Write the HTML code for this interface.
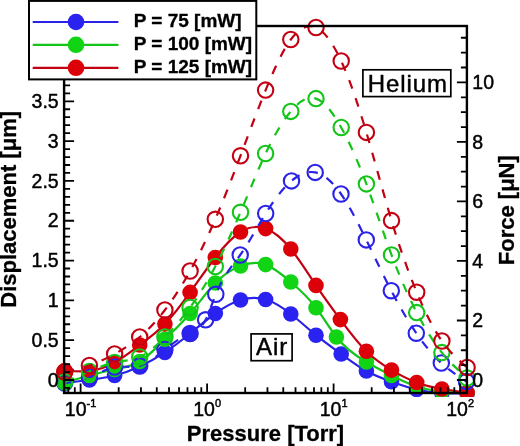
<!DOCTYPE html>
<html><head><meta charset="utf-8"><title>Displacement vs Pressure</title>
<style>html,body{margin:0;padding:0;background:#fff;width:520px;height:446px;overflow:hidden}svg{display:block}</style>
</head><body>
<svg width="520" height="446" viewBox="0 0 520 446">
<rect width="520" height="446" fill="#fff"/>
<defs><clipPath id="dc"><rect x="0" y="0" width="520" height="397"/></clipPath></defs><g clip-path="url(#dc)">
<path d="M64.70,383.00 C72.93,382.04 81.15,381.08 89.38,380.00 C97.77,378.90 106.17,377.66 114.56,375.50 C122.95,373.34 131.35,370.25 139.74,366.40 C148.13,362.55 156.53,357.96 164.92,352.40 C173.31,346.84 181.71,340.33 190.10,333.50 C198.49,326.67 206.89,319.51 215.28,313.50 C223.67,307.49 232.07,302.62 240.46,300.00 C248.85,297.38 257.25,296.99 265.64,299.50 C274.03,302.01 282.43,307.41 290.82,314.00 C299.21,320.59 307.61,328.37 316.00,335.20 C324.39,342.03 332.79,347.92 341.18,354.00 C349.57,360.08 357.97,366.34 366.36,371.00 C374.75,375.66 383.15,378.73 391.54,381.70 C399.93,384.67 408.33,387.55 416.72,389.50 C425.11,391.45 433.51,392.49 441.90,393.00 C450.29,393.51 458.69,393.51 467.08,393.50" fill="none" stroke="#2a22e6" stroke-width="2.2"/>
<circle cx="64.7" cy="383.0" r="7.8" fill="#2a22f0"/>
<circle cx="89.4" cy="380.0" r="7.8" fill="#2a22f0"/>
<circle cx="114.6" cy="375.5" r="7.8" fill="#2a22f0"/>
<circle cx="139.7" cy="366.4" r="7.8" fill="#2a22f0"/>
<circle cx="164.9" cy="352.4" r="7.8" fill="#2a22f0"/>
<circle cx="190.1" cy="333.5" r="7.8" fill="#2a22f0"/>
<circle cx="215.3" cy="313.5" r="7.8" fill="#2a22f0"/>
<circle cx="240.5" cy="300.0" r="7.8" fill="#2a22f0"/>
<circle cx="265.6" cy="299.5" r="7.8" fill="#2a22f0"/>
<circle cx="290.8" cy="314.0" r="7.8" fill="#2a22f0"/>
<circle cx="316.0" cy="335.2" r="7.8" fill="#2a22f0"/>
<circle cx="341.2" cy="354.0" r="7.8" fill="#2a22f0"/>
<circle cx="366.4" cy="371.0" r="7.8" fill="#2a22f0"/>
<circle cx="391.5" cy="381.7" r="7.8" fill="#2a22f0"/>
<circle cx="416.7" cy="389.5" r="7.8" fill="#2a22f0"/>
<circle cx="441.9" cy="393.0" r="7.8" fill="#2a22f0"/>
<circle cx="467.1" cy="393.5" r="7.8" fill="#2a22f0"/>
<path d="M64.70,382.50 C72.93,380.11 81.15,377.71 89.38,375.50 C97.77,373.24 106.17,371.17 114.56,369.50 C122.95,367.83 131.35,366.57 139.74,361.50 C148.13,356.43 156.53,347.57 164.92,339.30 C173.31,331.03 181.71,323.35 190.10,313.50 C198.49,303.65 206.89,291.61 215.28,283.00 C223.67,274.39 232.07,269.19 240.46,266.00 C248.85,262.81 257.25,261.61 265.64,264.60 C274.03,267.59 282.43,274.76 290.82,282.00 C299.21,289.24 307.61,296.54 316.00,307.70 C322.80,316.74 329.60,328.33 336.40,337.00 C346.39,349.74 356.37,356.20 366.36,362.00 C374.75,366.87 383.15,371.28 391.54,375.50 C399.93,379.72 408.33,383.77 416.72,386.50 C425.11,389.23 433.51,390.64 441.90,391.50 C450.29,392.36 458.69,392.68 467.08,393.00" fill="none" stroke="#14c418" stroke-width="2.2"/>
<circle cx="64.7" cy="382.5" r="7.8" fill="#10d414"/>
<circle cx="89.4" cy="375.5" r="7.8" fill="#10d414"/>
<circle cx="114.6" cy="369.5" r="7.8" fill="#10d414"/>
<circle cx="139.7" cy="361.5" r="7.8" fill="#10d414"/>
<circle cx="164.9" cy="339.3" r="7.8" fill="#10d414"/>
<circle cx="190.1" cy="313.5" r="7.8" fill="#10d414"/>
<circle cx="215.3" cy="283.0" r="7.8" fill="#10d414"/>
<circle cx="240.5" cy="266.0" r="7.8" fill="#10d414"/>
<circle cx="265.6" cy="264.6" r="7.8" fill="#10d414"/>
<circle cx="290.8" cy="282.0" r="7.8" fill="#10d414"/>
<circle cx="316.0" cy="307.7" r="7.8" fill="#10d414"/>
<circle cx="336.4" cy="337.0" r="7.8" fill="#10d414"/>
<circle cx="366.4" cy="362.0" r="7.8" fill="#10d414"/>
<circle cx="391.5" cy="375.5" r="7.8" fill="#10d414"/>
<circle cx="416.7" cy="386.5" r="7.8" fill="#10d414"/>
<circle cx="441.9" cy="391.5" r="7.8" fill="#10d414"/>
<circle cx="467.1" cy="393.0" r="7.8" fill="#10d414"/>
<path d="M64.70,370.50 C72.93,371.25 81.15,371.99 89.38,371.00 C97.77,369.99 106.17,367.17 114.56,362.50 C122.95,357.83 131.35,351.30 139.74,345.00 C148.13,338.70 156.53,332.64 164.92,324.00 C173.31,315.36 181.71,304.15 190.10,292.40 C198.49,280.65 206.89,268.35 215.28,257.50 C223.67,246.65 232.07,237.26 240.46,232.00 C248.85,226.74 257.25,225.62 265.64,228.60 C274.03,231.58 282.43,238.67 290.82,249.00 C299.21,259.33 307.61,272.89 316.00,285.40 C324.13,297.52 332.27,308.64 340.40,319.60 C349.05,331.26 357.71,342.74 366.36,351.30 C374.75,359.60 383.15,365.16 391.54,370.10 C399.93,375.04 408.33,379.38 416.72,382.50 C425.11,385.62 433.51,387.54 441.90,389.00 C450.29,390.46 458.69,391.48 467.08,392.50" fill="none" stroke="#c20012" stroke-width="2.2"/>
<circle cx="64.7" cy="370.5" r="7.8" fill="#dc0008"/>
<circle cx="89.4" cy="371.0" r="7.8" fill="#dc0008"/>
<circle cx="114.6" cy="362.5" r="7.8" fill="#dc0008"/>
<circle cx="139.7" cy="345.0" r="7.8" fill="#dc0008"/>
<circle cx="164.9" cy="324.0" r="7.8" fill="#dc0008"/>
<circle cx="190.1" cy="292.4" r="7.8" fill="#dc0008"/>
<circle cx="215.3" cy="257.5" r="7.8" fill="#dc0008"/>
<circle cx="240.5" cy="232.0" r="7.8" fill="#dc0008"/>
<circle cx="265.6" cy="228.6" r="7.8" fill="#dc0008"/>
<circle cx="290.8" cy="249.0" r="7.8" fill="#dc0008"/>
<circle cx="316.0" cy="285.4" r="7.8" fill="#dc0008"/>
<circle cx="340.4" cy="319.6" r="7.8" fill="#dc0008"/>
<circle cx="366.4" cy="351.3" r="7.8" fill="#dc0008"/>
<circle cx="391.5" cy="370.1" r="7.8" fill="#dc0008"/>
<circle cx="416.7" cy="382.5" r="7.8" fill="#dc0008"/>
<circle cx="441.9" cy="389.0" r="7.8" fill="#dc0008"/>
<circle cx="467.1" cy="392.5" r="7.8" fill="#dc0008"/>
<path d="M64.70,383.00 C72.93,381.91 81.17,380.81 89.40,377.50 C97.80,374.12 106.20,368.44 114.60,367.00 C122.97,365.57 131.33,368.34 139.70,366.00 C148.10,363.65 156.50,356.14 164.90,349.50 C173.30,342.86 181.70,337.07 190.10,333.50 C195.27,331.30 200.43,329.94 205.60,319.80 C209.00,313.13 212.40,302.65 215.80,294.30 C223.93,274.32 232.07,266.46 240.20,255.00 C248.70,243.03 257.20,227.12 265.70,213.50 C274.30,199.72 282.90,188.27 291.50,180.90 C299.40,174.13 307.30,170.80 315.20,172.40 C323.80,174.14 332.40,181.71 341.00,194.00 C349.43,206.05 357.87,222.64 366.30,239.90 C374.63,256.96 382.97,274.68 391.30,290.70 C399.63,306.72 407.97,321.05 416.30,333.20 C424.63,345.35 432.97,355.33 441.30,363.00 C449.70,370.73 458.10,376.12 466.50,381.50" fill="none" stroke="#2a22e6" stroke-width="2.2" stroke-dasharray="9.0 10.0" stroke-dashoffset="17.50"/>
<circle cx="64.7" cy="383.0" r="7.7" fill="none" stroke="#2a22e6" stroke-width="2.1"/>
<circle cx="89.4" cy="377.5" r="7.7" fill="none" stroke="#2a22e6" stroke-width="2.1"/>
<circle cx="114.6" cy="367.0" r="7.7" fill="none" stroke="#2a22e6" stroke-width="2.1"/>
<circle cx="139.7" cy="366.0" r="7.7" fill="none" stroke="#2a22e6" stroke-width="2.1"/>
<circle cx="164.9" cy="349.5" r="7.7" fill="none" stroke="#2a22e6" stroke-width="2.1"/>
<circle cx="190.1" cy="333.5" r="7.7" fill="none" stroke="#2a22e6" stroke-width="2.1"/>
<circle cx="205.6" cy="319.8" r="7.7" fill="none" stroke="#2a22e6" stroke-width="2.1"/>
<circle cx="215.8" cy="294.3" r="7.7" fill="none" stroke="#2a22e6" stroke-width="2.1"/>
<circle cx="240.2" cy="255.0" r="7.7" fill="none" stroke="#2a22e6" stroke-width="2.1"/>
<circle cx="265.7" cy="213.5" r="7.7" fill="none" stroke="#2a22e6" stroke-width="2.1"/>
<circle cx="291.5" cy="180.9" r="7.7" fill="none" stroke="#2a22e6" stroke-width="2.1"/>
<circle cx="315.2" cy="172.4" r="7.7" fill="none" stroke="#2a22e6" stroke-width="2.1"/>
<circle cx="341.0" cy="194.0" r="7.7" fill="none" stroke="#2a22e6" stroke-width="2.1"/>
<circle cx="366.3" cy="239.9" r="7.7" fill="none" stroke="#2a22e6" stroke-width="2.1"/>
<circle cx="391.3" cy="290.7" r="7.7" fill="none" stroke="#2a22e6" stroke-width="2.1"/>
<circle cx="416.3" cy="333.2" r="7.7" fill="none" stroke="#2a22e6" stroke-width="2.1"/>
<circle cx="441.3" cy="363.0" r="7.7" fill="none" stroke="#2a22e6" stroke-width="2.1"/>
<circle cx="466.5" cy="381.5" r="7.7" fill="none" stroke="#2a22e6" stroke-width="2.1"/>
<path d="M64.70,382.00 C72.93,378.51 81.15,375.02 89.38,371.50 C97.77,367.91 106.17,364.28 114.56,362.50 C122.95,360.72 131.35,360.79 139.74,357.00 C148.13,353.21 156.53,345.55 164.92,337.00 C173.31,328.45 181.71,318.99 190.10,307.50 C198.49,296.01 206.89,282.47 215.28,266.50 C223.67,250.53 232.07,232.11 240.46,212.30 C248.85,192.49 257.25,171.28 265.64,153.50 C274.03,135.72 282.43,121.37 290.82,111.40 C299.21,101.43 307.61,95.84 316.00,98.60 C324.39,101.36 332.79,112.48 341.18,127.50 C349.57,142.52 357.97,161.43 366.36,183.90 C374.75,206.37 383.15,232.39 391.54,254.90 C399.93,277.41 408.33,296.41 416.72,312.60 C425.11,328.79 433.51,342.17 441.90,352.60 C450.29,363.03 458.69,370.52 467.08,378.00" fill="none" stroke="#14c418" stroke-width="2.2" stroke-dasharray="9.0 10.0" stroke-dashoffset="18.20"/>
<circle cx="64.7" cy="382.0" r="7.7" fill="none" stroke="#14c418" stroke-width="2.1"/>
<circle cx="89.4" cy="371.5" r="7.7" fill="none" stroke="#14c418" stroke-width="2.1"/>
<circle cx="114.6" cy="362.5" r="7.7" fill="none" stroke="#14c418" stroke-width="2.1"/>
<circle cx="139.7" cy="357.0" r="7.7" fill="none" stroke="#14c418" stroke-width="2.1"/>
<circle cx="164.9" cy="337.0" r="7.7" fill="none" stroke="#14c418" stroke-width="2.1"/>
<circle cx="190.1" cy="307.5" r="7.7" fill="none" stroke="#14c418" stroke-width="2.1"/>
<circle cx="215.3" cy="266.5" r="7.7" fill="none" stroke="#14c418" stroke-width="2.1"/>
<circle cx="240.5" cy="212.3" r="7.7" fill="none" stroke="#14c418" stroke-width="2.1"/>
<circle cx="265.6" cy="153.5" r="7.7" fill="none" stroke="#14c418" stroke-width="2.1"/>
<circle cx="290.8" cy="111.4" r="7.7" fill="none" stroke="#14c418" stroke-width="2.1"/>
<circle cx="316.0" cy="98.6" r="7.7" fill="none" stroke="#14c418" stroke-width="2.1"/>
<circle cx="341.2" cy="127.5" r="7.7" fill="none" stroke="#14c418" stroke-width="2.1"/>
<circle cx="366.4" cy="183.9" r="7.7" fill="none" stroke="#14c418" stroke-width="2.1"/>
<circle cx="391.5" cy="254.9" r="7.7" fill="none" stroke="#14c418" stroke-width="2.1"/>
<circle cx="416.7" cy="312.6" r="7.7" fill="none" stroke="#14c418" stroke-width="2.1"/>
<circle cx="441.9" cy="352.6" r="7.7" fill="none" stroke="#14c418" stroke-width="2.1"/>
<circle cx="467.1" cy="378.0" r="7.7" fill="none" stroke="#14c418" stroke-width="2.1"/>
<path d="M64.70,372.00 C72.93,370.17 81.15,368.35 89.38,365.50 C97.77,362.59 106.17,358.62 114.56,354.00 C122.95,349.38 131.35,344.11 139.74,337.00 C148.13,329.89 156.53,320.96 164.92,310.00 C173.31,299.04 181.71,286.07 190.10,271.00 C198.49,255.93 206.89,238.77 215.28,219.30 C223.67,199.83 232.07,178.07 240.46,155.80 C248.85,133.53 257.25,110.76 265.64,90.10 C274.03,69.44 282.43,50.90 290.82,39.50 C299.21,28.10 307.61,23.83 316.00,27.50 C324.39,31.17 332.79,42.79 341.18,61.00 C349.57,79.21 357.97,104.01 366.36,132.40 C374.75,160.79 383.15,192.79 391.54,220.60 C399.93,248.41 408.33,272.05 416.72,292.20 C425.11,312.35 433.51,329.03 441.90,341.00 C450.29,352.97 458.69,360.24 467.08,367.50" fill="none" stroke="#c20012" stroke-width="2.2" stroke-dasharray="9.0 10.0" stroke-dashoffset="18.30"/>
<circle cx="64.7" cy="372.0" r="7.7" fill="none" stroke="#c20012" stroke-width="2.1"/>
<circle cx="89.4" cy="365.5" r="7.7" fill="none" stroke="#c20012" stroke-width="2.1"/>
<circle cx="114.6" cy="354.0" r="7.7" fill="none" stroke="#c20012" stroke-width="2.1"/>
<circle cx="139.7" cy="337.0" r="7.7" fill="none" stroke="#c20012" stroke-width="2.1"/>
<circle cx="164.9" cy="310.0" r="7.7" fill="none" stroke="#c20012" stroke-width="2.1"/>
<circle cx="190.1" cy="271.0" r="7.7" fill="none" stroke="#c20012" stroke-width="2.1"/>
<circle cx="215.3" cy="219.3" r="7.7" fill="none" stroke="#c20012" stroke-width="2.1"/>
<circle cx="240.5" cy="155.8" r="7.7" fill="none" stroke="#c20012" stroke-width="2.1"/>
<circle cx="265.6" cy="90.1" r="7.7" fill="none" stroke="#c20012" stroke-width="2.1"/>
<circle cx="290.8" cy="39.5" r="7.7" fill="none" stroke="#c20012" stroke-width="2.1"/>
<circle cx="316.0" cy="27.5" r="7.7" fill="none" stroke="#c20012" stroke-width="2.1"/>
<circle cx="341.2" cy="61.0" r="7.7" fill="none" stroke="#c20012" stroke-width="2.1"/>
<circle cx="366.4" cy="132.4" r="7.7" fill="none" stroke="#c20012" stroke-width="2.1"/>
<circle cx="391.5" cy="220.6" r="7.7" fill="none" stroke="#c20012" stroke-width="2.1"/>
<circle cx="416.7" cy="292.2" r="7.7" fill="none" stroke="#c20012" stroke-width="2.1"/>
<circle cx="441.9" cy="341.0" r="7.7" fill="none" stroke="#c20012" stroke-width="2.1"/>
<circle cx="467.1" cy="367.5" r="7.7" fill="none" stroke="#c20012" stroke-width="2.1"/>
</g>
<path d="M64.1,387.96h6.0 M64.1,380.00h10.0 M64.1,372.04h6.0 M64.1,364.07h6.0 M64.1,356.11h6.0 M64.1,348.15h6.0 M64.1,340.19h10.0 M64.1,332.22h6.0 M64.1,324.26h6.0 M64.1,316.30h6.0 M64.1,308.33h6.0 M64.1,300.37h10.0 M64.1,292.41h6.0 M64.1,284.44h6.0 M64.1,276.48h6.0 M64.1,268.52h6.0 M64.1,260.56h10.0 M64.1,252.59h6.0 M64.1,244.63h6.0 M64.1,236.67h6.0 M64.1,228.70h6.0 M64.1,220.74h10.0 M64.1,212.78h6.0 M64.1,204.81h6.0 M64.1,196.85h6.0 M64.1,188.89h6.0 M64.1,180.93h10.0 M64.1,172.96h6.0 M64.1,165.00h6.0 M64.1,157.04h6.0 M64.1,149.07h6.0 M64.1,141.11h10.0 M64.1,133.15h6.0 M64.1,125.18h6.0 M64.1,117.22h6.0 M64.1,109.26h6.0 M64.1,101.30h10.0 M64.1,93.33h6.0 M64.1,85.37h6.0 M64.1,77.41h6.0 M64.1,69.44h6.0 M64.1,61.48h10.0 M64.1,53.52h6.0 M64.1,45.55h6.0 M64.1,37.59h6.0 M64.1,29.63h6.0 M466.9,380.00h-10.0 M466.9,365.12h-6.0 M466.9,350.24h-6.0 M466.9,335.36h-6.0 M466.9,320.48h-10.0 M466.9,305.60h-6.0 M466.9,290.72h-6.0 M466.9,275.84h-6.0 M466.9,260.96h-10.0 M466.9,246.08h-6.0 M466.9,231.20h-6.0 M466.9,216.32h-6.0 M466.9,201.44h-10.0 M466.9,186.56h-6.0 M466.9,171.68h-6.0 M466.9,156.80h-6.0 M466.9,141.92h-10.0 M466.9,127.04h-6.0 M466.9,112.16h-6.0 M466.9,97.28h-6.0 M466.9,82.40h-10.0 M466.9,67.52h-6.0 M466.9,52.64h-6.0 M466.9,37.76h-6.0 M68.34,393.0v-5.8 M74.81,393.0v-5.8 M80.60,393.0v-9.5 M118.68,393.0v-5.8 M140.96,393.0v-5.8 M156.76,393.0v-5.8 M169.02,393.0v-5.8 M179.04,393.0v-5.8 M187.50,393.0v-5.8 M194.84,393.0v-5.8 M201.31,393.0v-5.8 M207.10,393.0v-9.5 M245.18,393.0v-5.8 M267.46,393.0v-5.8 M283.26,393.0v-5.8 M295.52,393.0v-5.8 M305.54,393.0v-5.8 M314.00,393.0v-5.8 M321.34,393.0v-5.8 M327.81,393.0v-5.8 M333.60,393.0v-9.5 M371.68,393.0v-5.8 M393.96,393.0v-5.8 M409.76,393.0v-5.8 M422.02,393.0v-5.8 M432.04,393.0v-5.8 M440.50,393.0v-5.8 M447.84,393.0v-5.8 M454.31,393.0v-5.8 M460.10,393.0v-9.5" stroke="#000" stroke-width="1.8" fill="none"/>
<rect x="64.1" y="26.0" width="402.8" height="367.0" fill="none" stroke="#000" stroke-width="2.4"/>
<text x="58.7" y="386.6" font-family="Liberation Sans, Arial, Helvetica, sans-serif" stroke="#000" stroke-width="0.45" font-size="19.5" text-anchor="end">0</text>
<text x="58.7" y="346.8" font-family="Liberation Sans, Arial, Helvetica, sans-serif" stroke="#000" stroke-width="0.45" font-size="19.5" text-anchor="end">0.5</text>
<text x="58.7" y="307.0" font-family="Liberation Sans, Arial, Helvetica, sans-serif" stroke="#000" stroke-width="0.45" font-size="19.5" text-anchor="end">1</text>
<text x="58.7" y="267.2" font-family="Liberation Sans, Arial, Helvetica, sans-serif" stroke="#000" stroke-width="0.45" font-size="19.5" text-anchor="end">1.5</text>
<text x="58.7" y="227.3" font-family="Liberation Sans, Arial, Helvetica, sans-serif" stroke="#000" stroke-width="0.45" font-size="19.5" text-anchor="end">2</text>
<text x="58.7" y="187.5" font-family="Liberation Sans, Arial, Helvetica, sans-serif" stroke="#000" stroke-width="0.45" font-size="19.5" text-anchor="end">2.5</text>
<text x="58.7" y="147.7" font-family="Liberation Sans, Arial, Helvetica, sans-serif" stroke="#000" stroke-width="0.45" font-size="19.5" text-anchor="end">3</text>
<text x="58.7" y="107.9" font-family="Liberation Sans, Arial, Helvetica, sans-serif" stroke="#000" stroke-width="0.45" font-size="19.5" text-anchor="end">3.5</text>
<text x="472.3" y="386.8" font-family="Liberation Sans, Arial, Helvetica, sans-serif" stroke="#000" stroke-width="0.45" font-size="19.5">0</text>
<text x="472.3" y="327.3" font-family="Liberation Sans, Arial, Helvetica, sans-serif" stroke="#000" stroke-width="0.45" font-size="19.5">2</text>
<text x="472.3" y="267.8" font-family="Liberation Sans, Arial, Helvetica, sans-serif" stroke="#000" stroke-width="0.45" font-size="19.5">4</text>
<text x="472.3" y="208.2" font-family="Liberation Sans, Arial, Helvetica, sans-serif" stroke="#000" stroke-width="0.45" font-size="19.5">6</text>
<text x="472.3" y="148.7" font-family="Liberation Sans, Arial, Helvetica, sans-serif" stroke="#000" stroke-width="0.45" font-size="19.5">8</text>
<text x="472.3" y="89.2" font-family="Liberation Sans, Arial, Helvetica, sans-serif" stroke="#000" stroke-width="0.45" font-size="19.5">10</text>
<text x="80.6" y="416" font-family="Liberation Sans, Arial, Helvetica, sans-serif" stroke="#000" stroke-width="0.45" font-size="19.5" text-anchor="middle">10<tspan font-size="11" dy="-9.5">-1</tspan></text>
<text x="207.1" y="416" font-family="Liberation Sans, Arial, Helvetica, sans-serif" stroke="#000" stroke-width="0.45" font-size="19.5" text-anchor="middle">10<tspan font-size="11" dy="-9.5">0</tspan></text>
<text x="333.6" y="416" font-family="Liberation Sans, Arial, Helvetica, sans-serif" stroke="#000" stroke-width="0.45" font-size="19.5" text-anchor="middle">10<tspan font-size="11" dy="-9.5">1</tspan></text>
<text x="460.1" y="416" font-family="Liberation Sans, Arial, Helvetica, sans-serif" stroke="#000" stroke-width="0.45" font-size="19.5" text-anchor="middle">10<tspan font-size="11" dy="-9.5">2</tspan></text>
<text x="265.5" y="441.3" font-family="Liberation Sans, Arial, Helvetica, sans-serif" font-weight="bold" stroke="#000" stroke-width="0.3" font-size="22" text-anchor="middle">Pressure [Torr]</text>
<text transform="translate(16.1,209.3) rotate(-90)" font-family="Liberation Sans, Arial, Helvetica, sans-serif" font-weight="bold" stroke="#000" stroke-width="0.3" font-size="22" text-anchor="middle">Displacement [&#956;m]</text>
<text transform="translate(513.8,210.2) rotate(-90)" font-family="Liberation Sans, Arial, Helvetica, sans-serif" font-weight="bold" stroke="#000" stroke-width="0.3" font-size="22" text-anchor="middle">Force [&#956;N]</text>
<rect x="362.9" y="69.8" width="87.9" height="26.8" fill="#fff" stroke="#000" stroke-width="1.7"/>
<text x="367.7" y="91.5" font-family="Liberation Sans, Arial, Helvetica, sans-serif" stroke="#000" stroke-width="0.45" font-size="24" letter-spacing="0.9">Helium</text>
<rect x="251.1" y="333.9" width="41" height="26.8" fill="#fff" stroke="#000" stroke-width="1.7"/>
<text x="256" y="354.8" font-family="Liberation Sans, Arial, Helvetica, sans-serif" stroke="#000" stroke-width="0.45" font-size="24" letter-spacing="0.9">Air</text>
<rect x="29" y="0.9" width="227.3" height="78.5" fill="#fff" stroke="#000" stroke-width="2"/>
<line x1="32.7" y1="22.0" x2="118.4" y2="22.0" stroke="#2a22e6" stroke-width="2.2"/>
<circle cx="76" cy="22.0" r="8.3" fill="#2a22f0"/>
<text x="133.7" y="27.2" font-family="Liberation Sans, Arial, Helvetica, sans-serif" font-weight="bold" stroke="#000" stroke-width="0.3" font-size="19">P = 75 [mW]</text>
<line x1="32.7" y1="44.8" x2="118.4" y2="44.8" stroke="#14c418" stroke-width="2.2"/>
<circle cx="76" cy="44.8" r="8.3" fill="#10d414"/>
<text x="133.7" y="50.0" font-family="Liberation Sans, Arial, Helvetica, sans-serif" font-weight="bold" stroke="#000" stroke-width="0.3" font-size="19">P = 100 [mW]</text>
<line x1="32.7" y1="67.8" x2="118.4" y2="67.8" stroke="#c20012" stroke-width="2.2"/>
<circle cx="76" cy="67.8" r="8.3" fill="#dc0008"/>
<text x="133.7" y="73.0" font-family="Liberation Sans, Arial, Helvetica, sans-serif" font-weight="bold" stroke="#000" stroke-width="0.3" font-size="19">P = 125 [mW]</text>
</svg>
</body></html>
